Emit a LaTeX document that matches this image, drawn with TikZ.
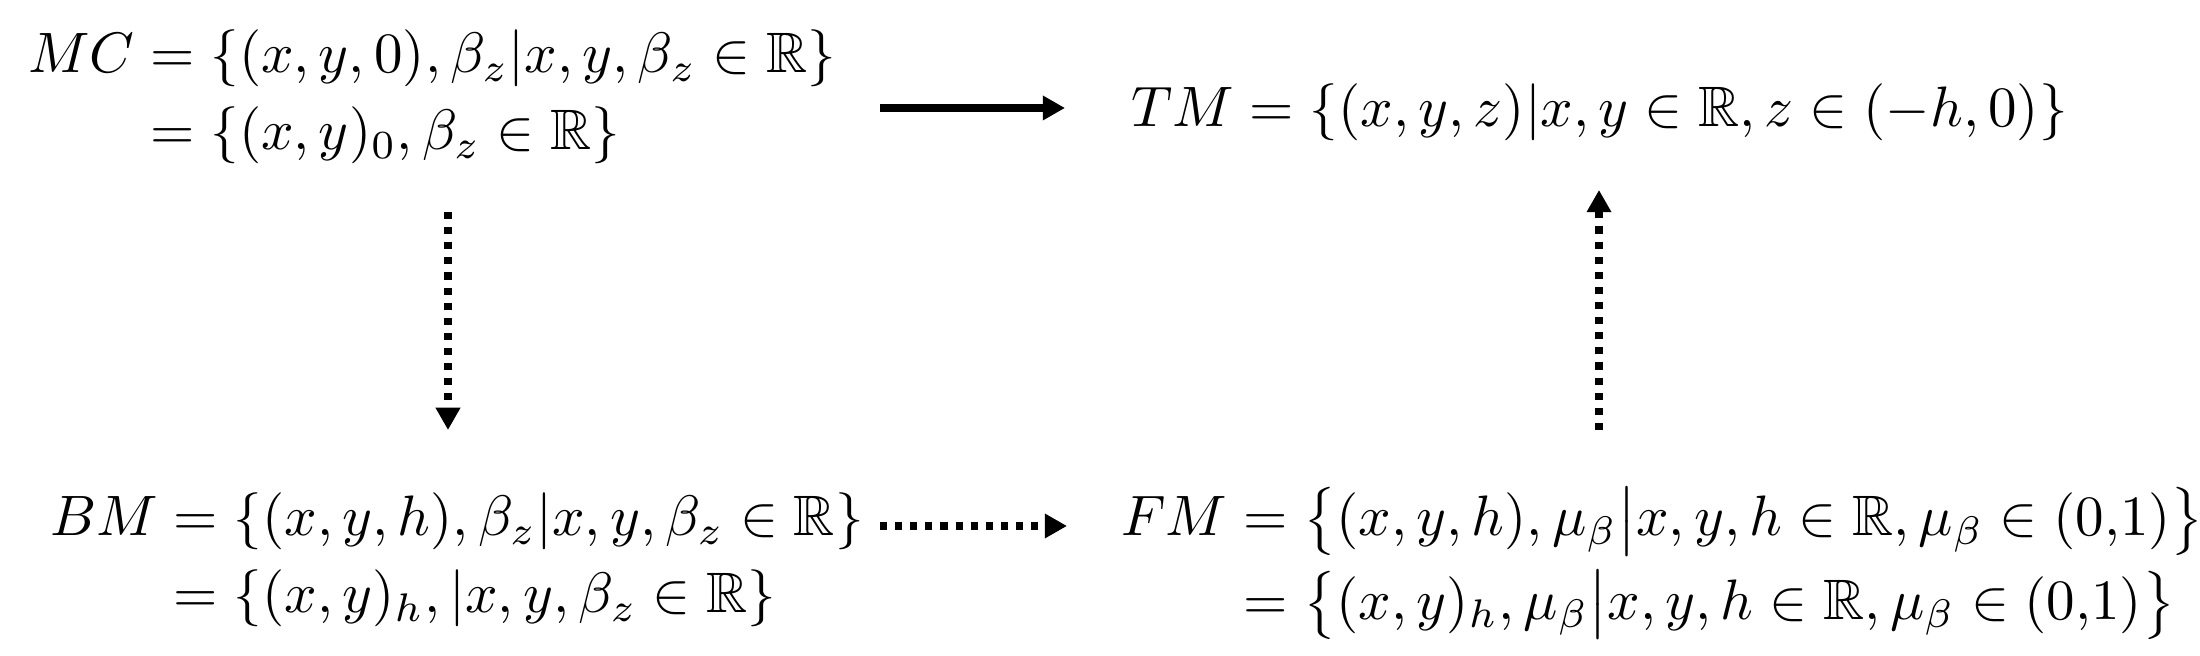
\documentclass[tikz,border=0pt]{standalone}
\usepackage{amsmath,amssymb}
\usetikzlibrary{arrows.meta}
\tikzset{
  setnode/.style={inner sep=0pt,anchor=base west},
  solidarr/.style={line width=1.25pt,-{Triangle[length=3.9pt,width=4.1pt]}},
  dotarr/.style={line width=1.25pt,dash pattern=on 1.25pt off 1.4pt,-{Triangle[length=3.9pt,width=4.1pt]}}
}
\begin{document}
\begin{tikzpicture}[x=17.54pt,y=17.54pt]
            \useasboundingbox (0,0) rectangle (22,6.56);
            % the four sets
            \node[setnode] (MC) at (0.27,5.83) {$\begin{aligned}[t]
                MC &= \{(x,y,0),\beta_z|x,y,\beta_z\in\mathbb{R}\}\\[-1.5pt]
                   &= \{(x,y)_0,\beta_z\in\mathbb{R}\}
              \end{aligned}$};
            \node[setnode] (TM) at (11.3,5.29) {$TM=\{(x,y,z)|x,y\in\mathbb{R},z\in(-h,0)\}$};
            \node[setnode] (BM) at (0.49,1.2) {$\begin{aligned}[t]
                BM &= \{(x,y,h),\beta_z|x,y,\beta_z\in\mathbb{R}\}\\[-1.5pt]
                   &= \{(x,y)_h,|x,y,\beta_z\in\mathbb{R}\}
              \end{aligned}$};
            \node[setnode] (FM) at (11.2,1.2) {$\begin{aligned}[t]
                FM &= \bigl\{(x,y,h),\mu_\beta\big|x,y,h\in\mathbb{R},\mu_\beta\in(0{,}1)\bigr\}\\[-1.5pt]
                   &= \bigl\{(x,y)_h,\mu_\beta\big|x,y,h\in\mathbb{R},\mu_\beta\in(0{,}1)\bigr\}
              \end{aligned}$};
            % arrow ends
            \coordinate (mc-out) at (8.80,5.48);
            \coordinate (tm-in) at (10.65,5.48);
            \coordinate (mc-down) at (4.48,4.44);
            \coordinate (bm-in) at (4.48,2.26);
            \coordinate (bm-out) at (8.80,1.3);
            \coordinate (fm-in) at (10.67,1.3);
            \coordinate (fm-up) at (15.99,2.26);
            \coordinate (tm-up) at (15.99,4.66);
            \draw[solidarr] (mc-out) -- (tm-in);
            \draw[dotarr] (mc-down) -- (bm-in);
            \draw[dotarr] (bm-out) -- (fm-in);
            \draw[dotarr] (fm-up) -- (tm-up);
\end{tikzpicture}
\end{document}
